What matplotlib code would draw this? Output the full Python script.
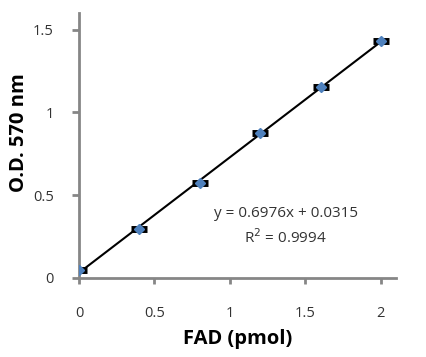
import matplotlib.pyplot as plt
import numpy as np

plt.rcParams['font.family'] = ['Open Sans', 'DejaVu Sans']

# FAD standard curve
fad = [0, 0.4, 0.8, 1.2, 1.6, 2.0]
od = [0.048, 0.296, 0.575, 0.875, 1.155, 1.432]
slope = 0.6976
intercept = 0.0315
r2 = 0.9994

fig = plt.figure(figsize=(4.26, 3.57), dpi=100)
ax = fig.add_axes([0.1854, 0.2213, 0.7442, 0.7423])

# trend line
xl = np.array([0, 2.0])
ax.plot(xl, slope * xl + intercept, color='black', linewidth=1.5, zorder=2)

# small black bars behind the points, then the blue diamonds
ax.plot(fad, od, linestyle='none', marker='_', markersize=11, markeredgewidth=5,
        color='black', zorder=3)
ax.plot(fad, od, linestyle='none', marker='D', markersize=5, color='#4F81BD',
        markeredgecolor='#4F81BD', zorder=4)

ax.text(1.37, 0.39, 'y = %.4fx + %.4f' % (slope, intercept), ha='center', va='center',
        fontsize=11, color='#333333')
ax.text(1.37, 0.245, 'R$^2$ = %.4f' % r2, ha='center', va='center',
        fontsize=11, color='#333333')

ax.set_xlim(0, 2.1)
ax.set_ylim(0, 1.6)
ax.set_xticks([0, 0.5, 1, 1.5, 2])
ax.set_xticklabels(['0', '0.5', '1', '1.5', '2'])
ax.set_yticks([0, 0.5, 1, 1.5])
ax.set_yticklabels(['0', '0.5', '1', '1.5'])

for s in ['top', 'right']:
    ax.spines[s].set_visible(False)
for s in ['left', 'bottom']:
    ax.spines[s].set_color('#868686')
    ax.spines[s].set_linewidth(2)

ax.tick_params(axis='x', direction='out', length=4, width=2, color='#868686',
               labelsize=10.5, labelcolor='#333333', pad=16)
ax.tick_params(axis='y', direction='out', length=5, width=2, color='#868686',
               labelsize=10.5, labelcolor='#333333', pad=13)

ax.set_xlabel('FAD (pmol)', fontsize=14.5, fontweight='bold', labelpad=6)
ax.set_ylabel('O.D. 570 nm', fontsize=14.5, fontweight='bold')
ax.yaxis.set_label_coords(-0.158, 0.55)

fig.savefig('out.png', dpi=100)
